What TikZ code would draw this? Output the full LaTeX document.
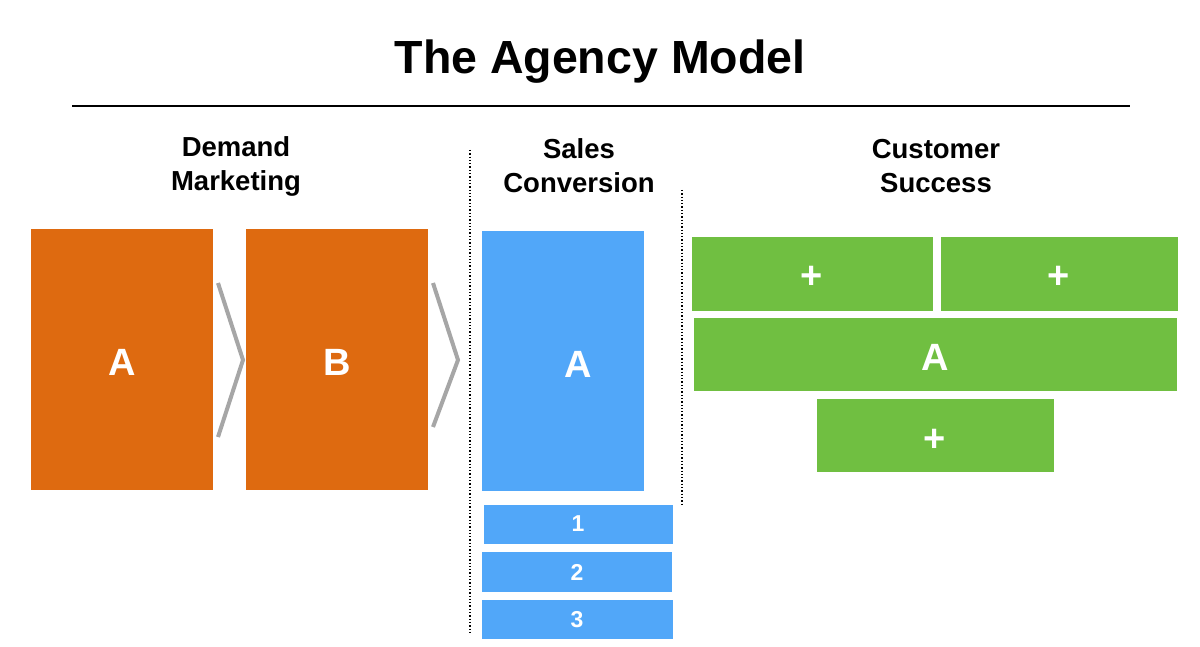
\documentclass[tikz,border=0pt]{standalone}
\usepackage{fontspec}
\setmainfont{Liberation Sans}
\begin{document}
\begin{tikzpicture}[x=1pt,y=-1pt,
 box/.style={draw=none,inner sep=0pt,text=white,font=\fontsize{38}{40}\selectfont\bfseries},
 sbox/.style={box,font=\fontsize{23}{26}\selectfont\bfseries},
 head/.style={align=center,font=\fontsize{27.5}{34}\selectfont\bfseries},
 chev/.style={draw=gray!70,line width=4pt,line join=miter},
 dots/.style={dotted,line width=1.3pt}]
\definecolor{org}{HTML}{DE6A10}\definecolor{blu}{HTML}{51A7F9}\definecolor{grn}{HTML}{70BF41}
\useasboundingbox[fill=white] (0,0) rectangle (1200,647);
\node[font=\fontsize{46.5}{52}\selectfont\bfseries] (title) at (600,62) {The Agency Model};
\draw[line width=1.5pt] (72,106) -- (1130,106);
\node[head] (h1) at (236,166) {Demand\\Marketing};
\node[head] (h2) at (579,166) {Sales\\Conversion};
\node[head] (h3) at (936,166) {Customer\\Success};
\fill[org] (31,229) rectangle (213,490); \node[box] (oa) at (122,362) {A};
\fill[org] (246,229) rectangle (428,490); \node[box] (ob) at (337,362) {B};
\draw[chev] (218,283) -- (243,360) -- (218,437);
\draw[chev] (433,283) -- (458,360) -- (433,427);
\fill[blu] (482,231) rectangle (644,491); \node[box] (ba) at (578,364) {A};
\fill[blu] (484,505) rectangle (673,544); \node[sbox] (b1) at (578,524) {1};
\fill[blu] (482,552) rectangle (672,592); \node[sbox] (b2) at (577,572) {2};
\fill[blu] (482,600) rectangle (673,639); \node[sbox] (b3) at (577,620) {3};
\draw[dots] (470,150) -- (470,635);
\draw[dots] (682,190) -- (682,505);
\fill[grn] (692,237) rectangle (933,311); \node[box] (g1) at (812,277) {+};
\fill[grn] (941,237) rectangle (1178,311); \node[box] (g2) at (1059,277) {+};
\fill[grn] (694,318) rectangle (1177,391); \node[box] (ga) at (935,357) {A};
\fill[grn] (817,399) rectangle (1054,472); \node[box] (g3) at (935,440) {+};
\end{tikzpicture}
\end{document}
